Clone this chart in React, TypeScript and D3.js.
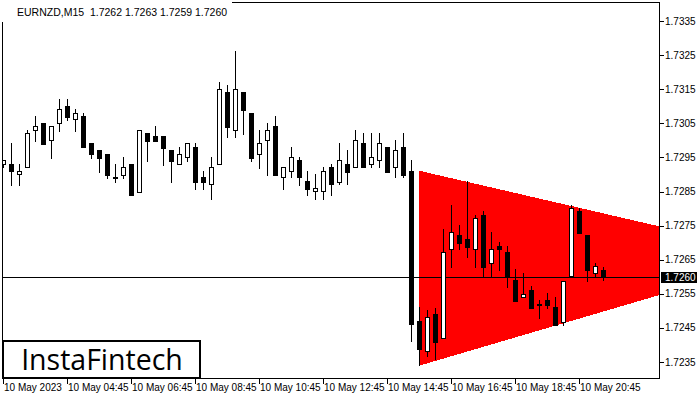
import React from "react";
import * as d3 from "d3";

const title = "EURNZD,M15  1.7262 1.7263 1.7259 1.7260";

// OHLC per 15-minute bar starting 10 May 02:45
const opens = [
  1.72931, 1.72931, 1.729, 1.72921, 1.73029, 1.73051, 1.73, 1.7305, 1.73101, 1.73062,
  1.73071, 1.72992, 1.72972, 1.7296, 1.72892, 1.72899, 1.72931, 1.72849, 1.73022, 1.73013,
  1.73013, 1.72972, 1.7293, 1.7295, 1.7298, 1.72892, 1.72871, 1.7293, 1.73142, 1.73029,
  1.73142, 1.7308, 1.72959, 1.73, 1.73042, 1.72892, 1.72909, 1.72942, 1.72881, 1.72851,
  1.72851, 1.72921, 1.72879, 1.72931, 1.72921, 1.72992, 1.7293, 1.72941, 1.7298, 1.72921,
  1.7298, 1.7291, 1.72469, 1.72381, 1.72491, 1.72419, 1.7268, 1.72721, 1.7271, 1.7268,
  1.7278, 1.72639, 1.72689, 1.72672, 1.7259, 1.7254, 1.72561, 1.72519, 1.72532, 1.72511,
  1.72468, 1.72601, 1.72792, 1.72721, 1.7261, 1.7262,
];
const highs = [
  1.72942, 1.72993, 1.72931, 1.7303, 1.73071, 1.73052, 1.73041, 1.73121, 1.73121, 1.73091,
  1.73079, 1.72992, 1.72972, 1.7296, 1.72931, 1.72951, 1.72931, 1.7303, 1.73022, 1.73042,
  1.73013, 1.72972, 1.7298, 1.72991, 1.72991, 1.7291, 1.72951, 1.73171, 1.73162, 1.73262,
  1.73142, 1.7308, 1.7303, 1.73051, 1.73071, 1.72922, 1.7298, 1.72951, 1.7291, 1.72901,
  1.72922, 1.72931, 1.72991, 1.72971, 1.7303, 1.73021, 1.73021, 1.73021, 1.7298, 1.73001,
  1.73021, 1.72941, 1.7251, 1.72502, 1.72508, 1.72739, 1.72809, 1.72751, 1.72881, 1.7278,
  1.72792, 1.7273, 1.72701, 1.72689, 1.72622, 1.7261, 1.72573, 1.72531, 1.72551, 1.72541,
  1.72589, 1.72809, 1.72801, 1.72721, 1.72639, 1.7263,
];
const lows = [
  1.72922, 1.7287, 1.7287, 1.72921, 1.72999, 1.72989, 1.72949, 1.73028, 1.73061, 1.73028,
  1.7298, 1.72949, 1.72908, 1.7289, 1.72879, 1.7289, 1.72841, 1.72849, 1.7294, 1.72999,
  1.72929, 1.72879, 1.7293, 1.7294, 1.72858, 1.72858, 1.72829, 1.7293, 1.73011, 1.73011,
  1.73019, 1.7294, 1.7292, 1.72899, 1.72899, 1.72858, 1.72892, 1.7287, 1.72841, 1.72829,
  1.72829, 1.72841, 1.72871, 1.72871, 1.72921, 1.72921, 1.72921, 1.72921, 1.72908, 1.72892,
  1.72892, 1.72411, 1.72341, 1.72368, 1.72359, 1.72419, 1.72629, 1.7268, 1.72659, 1.72629,
  1.726, 1.726, 1.72621, 1.72571, 1.7253, 1.7254, 1.72509, 1.7248, 1.72509, 1.72458,
  1.72459, 1.72601, 1.72729, 1.72588, 1.726, 1.7259,
];
const closes = [
  1.72941, 1.72909, 1.7291, 1.73022, 1.73041, 1.7299, 1.73041, 1.73091, 1.73069, 1.73079,
  1.7298, 1.72959, 1.72949, 1.72899, 1.72893, 1.72922, 1.72841, 1.7303, 1.72999, 1.72999,
  1.72978, 1.7294, 1.72959, 1.72991, 1.72879, 1.72879, 1.72922, 1.7315, 1.7304, 1.7315,
  1.7309, 1.72949, 1.72991, 1.7303, 1.72899, 1.72922, 1.7295, 1.72892, 1.72858, 1.72859,
  1.72909, 1.72871, 1.72941, 1.72908, 1.73, 1.72921, 1.7295, 1.72991, 1.72908, 1.72972,
  1.72899, 1.7246, 1.72389, 1.72481, 1.7241, 1.72672, 1.7273, 1.727, 1.72688, 1.72771,
  1.72629, 1.7268, 1.7268, 1.726, 1.7253, 1.7255, 1.72509, 1.72518, 1.72518, 1.72458,
  1.72589, 1.72801, 1.72729, 1.72621, 1.72631, 1.726,
];

const priceTicks = [1.7235, 1.7245, 1.7255, 1.7265, 1.7275, 1.7285, 1.7295, 1.7305, 1.7315, 1.7325, 1.7335];
const timeTickBars = [0, 8, 16, 24, 32, 40, 48, 56, 64, 72];
const timeTickLabels = [
  "10 May 2023", "10 May 04:45", "10 May 06:45", "10 May 08:45", "10 May 10:45",
  "10 May 12:45", "10 May 14:45", "10 May 16:45", "10 May 18:45", "10 May 20:45",
];
const currentPrice = 1.726;

// Symmetrical triangle pattern: [bar index, price]
const triangleUpper = [[52, 1.72911], [82, 1.72748]];
const triangleLower = [[52, 1.72339], [82, 1.72546]];

const FONT = "'Liberation Sans', Arial, sans-serif";

export default function App() {
  const W = 700, H = 400;
  const left = 2.5, right = 659.5, top = 2.5, bottom = 378.5;
  const x = d3.scaleLinear().domain([0, 82]).range([3, 659]);
  const y = d3.scaleLinear().domain([1.7235, 1.7335]).range([362, 21]);

  const triPts = [triangleUpper[0], triangleUpper[1], triangleLower[1], triangleLower[0]]
    .map(([b, p]) => `${x(b)},${y(p)}`).join(" ");

  const py = Math.round(y(currentPrice)) + 0.5;

  return (
    <svg width={W} height={H} style={{ display: "block", position: "absolute", left: 0, top: 0 }}
      fontFamily={FONT}>
      <rect x={0} y={0} width={W} height={H} fill="#fff" />
      <defs>
        <clipPath id="plot">
          <rect x={left} y={top} width={right - left} height={bottom - top} />
        </clipPath>
      </defs>
      <g clipPath="url(#plot)">
        <polygon points={triPts} fill="#ff0000" shapeRendering="crispEdges" />
        <line x1={left} x2={right} y1={py} y2={py} stroke="#000" strokeWidth={1} shapeRendering="crispEdges" />
        {opens.map((o, i) => {
          const c = closes[i], h = highs[i], l = lows[i];
          const cx = Math.round(x(i));
          const bull = c >= o;
          const yt = Math.round(y(Math.max(o, c)));
          const yb = Math.round(y(Math.min(o, c)));
          return (
            <g key={i} shapeRendering="crispEdges">
              <line x1={cx + 0.5} x2={cx + 0.5} y1={Math.round(y(h))} y2={Math.round(y(l)) + 1} stroke="#000" />
              {bull ? (
                <rect x={cx - 1.5} y={yt + 0.5} width={4} height={Math.max(1, yb - yt)} fill="#fff" stroke="#000" />
              ) : (
                <rect x={cx - 2} y={yt} width={5} height={Math.max(1, yb - yt + 1)} fill="#000" />
              )}
            </g>
          );
        })}
      </g>
      <rect x={left} y={top} width={right - left} height={bottom - top} fill="none" stroke="#000" shapeRendering="crispEdges" />
      {/* title background */}
      <rect x={0} y={0} width={232} height={22} fill="#fff" />
      <text x={17} y={16} fontSize={10.5} fill="#000">{title.replace("  ", "\u00a0\u00a0")}</text>
      {/* price axis */}
      {priceTicks.map((p, i) => (
        <g key={i}>
          <line x1={right} x2={right + 4} y1={Math.round(y(p)) + 0.5} y2={Math.round(y(p)) + 0.5} stroke="#000" shapeRendering="crispEdges" />
          <text x={665} y={y(p)} dy="0.35em" fontSize={10} fill="#000">{p.toFixed(4)}</text>
        </g>
      ))}
      <rect x={661} y={py - 5.5} width={36} height={11} fill="#000" />
      <text x={665} y={py} dy="0.36em" fontSize={10} fill="#fff">{currentPrice.toFixed(4)}</text>
      {/* time axis */}
      {timeTickBars.map((b, i) => (
        <g key={i}>
          <line x1={Math.round(x(b)) + 0.5} x2={Math.round(x(b)) + 0.5} y1={bottom} y2={bottom + 5} stroke="#000" shapeRendering="crispEdges" />
          <text x={Math.round(x(b)) + 1} y={391} fontSize={10} fill="#000">{timeTickLabels[i]}</text>
        </g>
      ))}
      {/* logo */}
      <rect x={3} y={341} width={197} height={37} fill="#fff" stroke="#000" strokeWidth={2} />
      <text x={102} y={370} textAnchor="middle" fontSize={28.5} fill="#000" fontWeight={500} fontFamily="'Open Sans', 'Liberation Sans', sans-serif">InstaFintech</text>
    </svg>
  );
}
